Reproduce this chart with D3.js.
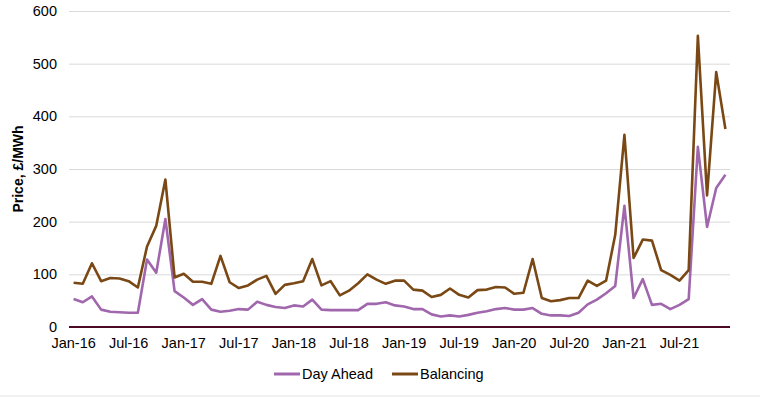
<!DOCTYPE html>
<html>
<head>
<meta charset="utf-8">
<script src="https://cdn.jsdelivr.net/npm/d3@7"></script>
<style>
  body { margin: 0; background: white; }
  svg { display: block; font-family: "Liberation Sans", Arial, sans-serif; }
</style>
</head>
<body>
<div id="chart"></div>
<script>
let width = 760
let height = 398

// monthly prices, Jan-16 .. Dec-21 (£/MWh)
let dayAhead = [
  53, 47, 58, 33, 29, 28, 27, 27, 128, 103, 205, 68,
  56, 42, 53, 33, 29, 31, 34, 33, 48, 42, 38, 36,
  41, 39, 52, 33, 32, 32, 32, 32, 44, 44, 47, 41,
  39, 34, 34, 24, 20, 22, 20, 23, 27, 30, 34, 36,
  33, 33, 36, 25, 22, 22, 21, 27, 43, 52, 64, 78,
  230, 55, 91, 42, 44, 34, 42, 53, 342, 190, 264, 289
]
let balancing = [
  84, 82, 121, 87, 93, 92, 87, 75, 153, 192, 280, 94,
  101, 86, 86, 82, 135, 85, 74, 79, 90, 97, 63, 80,
  83, 87, 129, 79, 87, 60, 69, 83, 100, 90, 82, 88,
  88, 71, 69, 57, 61, 73, 61, 56, 70, 71, 76, 75,
  63, 65, 129, 55, 49, 51, 55, 55, 88, 78, 88, 175,
  365, 131, 166, 164, 108, 99, 88, 108, 553, 250, 484, 376
]
let yTicks = [0, 100, 200, 300, 400, 500, 600]
let seriesNames = ["Day Ahead", "Balancing"]
let seriesColors = ["#a067ad", "#7a4814"]

let months = d3.timeMonth.range(new Date(2016, 0, 1), new Date(2022, 0, 1))
let fmt = d3.timeFormat("%b-%y")
let monthLabels = months.map(d => fmt(d))
let tickLabels = monthLabels.filter((d, i) => i % 6 == 0)

let svg = d3.select("#chart").append("svg")
  .attr("width", width)
  .attr("height", height)

let x = d3.scaleBand()
  .domain(monthLabels)
  .range([69, 730])
let y = d3.scaleLinear()
  .domain([0, 600])
  .range([327, 11])

// grid + y labels
let yAxis = svg.append("g")
  .attr("transform", "translate(69,0)")
  .call(d3.axisLeft(y).tickValues(yTicks).tickSize(-661).tickPadding(12))
yAxis.select(".domain").remove()
yAxis.selectAll(".tick line").attr("stroke", "#d9d9d9").attr("stroke-width", 1)
yAxis.selectAll(".tick text").attr("font-size", "14.5px").attr("fill", "#000")

// x labels
let xAxis = svg.append("g")
  .attr("transform", "translate(0,327)")
  .call(d3.axisBottom(x).tickValues(tickLabels).tickSize(0).tickPadding(11))
xAxis.select(".domain").remove()
xAxis.selectAll(".tick text").attr("font-size", "14.5px").attr("fill", "#000")

// axis base line
svg.append("line")
  .attr("x1", 69).attr("x2", 730)
  .attr("y1", y(0)).attr("y2", y(0))
  .attr("stroke", "#4d0a24")
  .attr("stroke-width", 2)

let line = d3.line()
  .x((d, i) => x(monthLabels[i]) + x.bandwidth() / 2)
  .y(d => y(d))

;[dayAhead, balancing].forEach(function (data, k) {
  svg.append("path")
    .datum(data)
    .attr("d", line)
    .attr("fill", "none")
    .attr("stroke", seriesColors[k])
    .attr("stroke-width", 2.6)
    .attr("stroke-linejoin", "round")
})

// y title
svg.append("text")
  .attr("transform", "translate(23,169) rotate(-90)")
  .attr("text-anchor", "middle")
  .attr("font-size", "14px")
  .attr("font-weight", "bold")
  .text("Price, £/MWh")

// legend
let legendX = [274, 392]
let legend = svg.append("g")
  .selectAll("g")
  .data(seriesNames)
  .join("g")
  .attr("transform", (d, i) => `translate(${legendX[i]},374)`)
legend.append("line")
  .attr("x2", 26)
  .attr("stroke", (d, i) => seriesColors[i])
  .attr("stroke-width", 3)
legend.append("text")
  .attr("x", 28)
  .attr("dy", "0.35em")
  .attr("font-size", "14.5px")
  .text(d => d)

// faint sheet border at the bottom
svg.append("line")
  .attr("x1", 0).attr("x2", width)
  .attr("y1", 396).attr("y2", 396)
  .attr("stroke", "#e3e3e3")
</script>
</body>
</html>
